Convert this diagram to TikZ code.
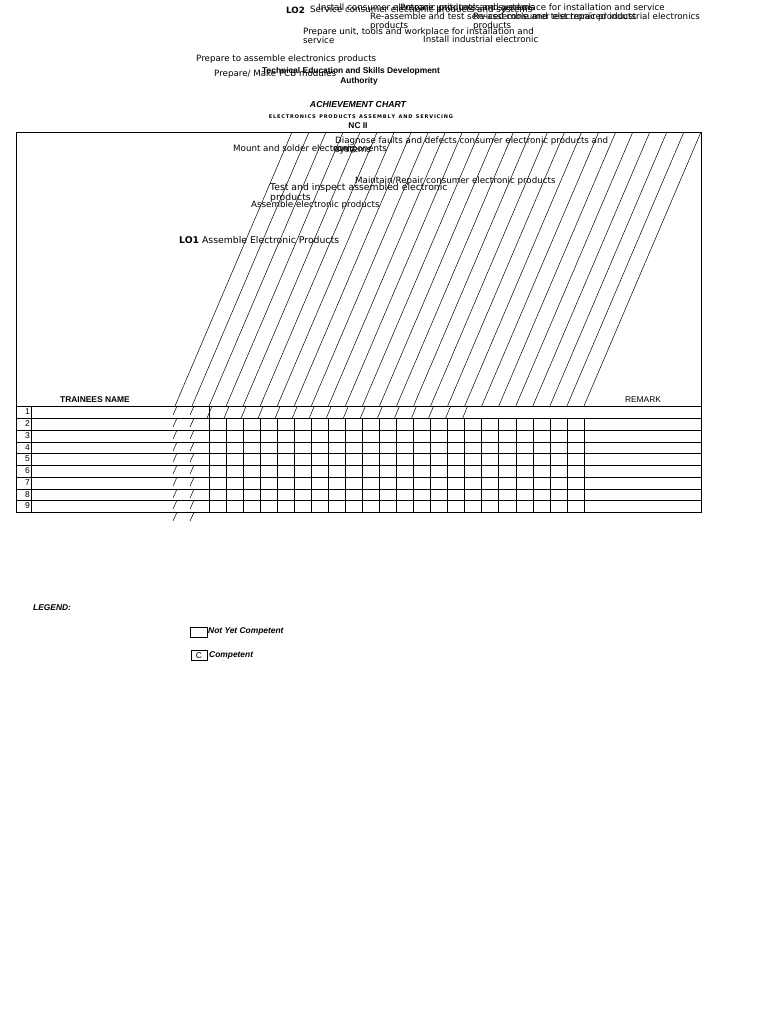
\documentclass[tikz,border=0pt]{standalone}
\usepackage{fontspec}
\setmainfont{DejaVu Sans}
\newfontfamily\arialf{Liberation Sans}
\begin{document}
\begin{tikzpicture}[x=1pt,y=-1pt,
  lbl/.style={anchor=west,inner sep=0,font=\fontsize{8.7}{8.8}\selectfont,align=left},
  hd/.style={inner sep=0,font=\arialf\bfseries\fontsize{8.4}{9}\selectfont},
  ln/.style={line width=0.6pt}]
\useasboundingbox (0,0) rectangle (768,1024);
% header texts
\node[lbl] (lo2) at (286,10) {\textbf{LO2}};
\node[lbl] (t1) at (310,10) {Service consumer electronic products and systems};
\node[lbl] (t2) at (318,8) {Install consumer electronic products and systems};
\node[lbl] (t3) at (400,8) {Prepare unit, tools and workplace for installation and service};
\node[lbl,anchor=north west] (t4) at (370,13) {Re-assemble and test serviced consumer electronic products\\products};
\node[lbl,anchor=north west] (t5) at (473,13) {Re-assemble and test repaired industrial electronics\\products};
\node[lbl,anchor=north west] (t6) at (303,28) {Prepare unit, tools and workplace for installation and\\service};
\node[lbl] (t7) at (423,39) {Install industrial electronic};
\node[lbl] (t8) at (196,59) {Prepare to assemble electronics products};
\node[lbl] (t9) at (214,74) {Prepare/ Make PCB modules};
\node[hd,anchor=west] (t10) at (262,71) {Technical Education and Skills Development};
\node[hd] (t11) at (359,81) {Authority};
\node[hd,font=\arialf\bfseries\itshape\fontsize{8.7}{9}\selectfont] (t12) at (358,105) {ACHIEVEMENT CHART};
\node[hd,font=\bfseries\fontsize{5}{6}\selectfont] (t13) at (361,117) {E\,L\,E\,C\,T\,R\,O\,N\,I\,C\,S\ \ P\,R\,O\,D\,U\,C\,T\,S\ \ A\,S\,S\,E\,M\,B\,L\,Y\ \ A\,N\,D\ \ S\,E\,R\,V\,I\,C\,I\,N\,G};
\node[hd] (t14) at (358,126) {NC II};
% table
\draw[ln] (16,132) rectangle (701,512);
\foreach \i in {0,...,24} {
  \pgfmathsetmacro{\xb}{175+17.04*\i}
  \draw[line width=0.5pt] (\xb,406) -- (\xb+117,132);
}
\foreach \y in {406,418,430,442,453,465,477,489,500} \draw[ln] (16,\y) -- (701,\y);
\draw[ln] (31,406) -- (31,512);
\foreach \i in {2,...,24} {
  \pgfmathsetmacro{\xb}{175+17.04*\i}
  \draw[ln] (\xb,418) -- (\xb,512);
}
\foreach \i in {2,...,17} {
  \pgfmathsetmacro{\xb}{175+17.04*\i}
  \draw[line width=0.5pt] (\xb-2,418) -- (\xb+3,406);
}
\draw[line width=0.5pt] (175+17.04*2,406) -- (175+17.04*2,418);
\foreach \i in {0,1} {
  \foreach \y in {406,418,430,442,453,465,477,489,500,512} {
    \pgfmathsetmacro{\xb}{175+17.04*\i}
    \draw[line width=0.5pt] (\xb-2,\y+9) -- (\xb+2,\y);
  }
}
\foreach \n/\y in {1/412,2/424,3/436,4/448,5/459,6/471,7/483,8/495,9/506}
  \node[lbl,font=\arialf\fontsize{8.5}{8}\selectfont] (r\n) at (25,\y) {\n};
\node[hd,font=\arialf\bfseries\fontsize{8.4}{9}\selectfont] (tn) at (95,400) {TRAINEES NAME};
\node[hd,font=\arialf\fontsize{8.4}{9}\selectfont] (rm) at (643,400) {REMARK};
% column labels
\node[lbl] (c1) at (233,148) {Mount and solder electronic};
\node[lbl] (c1b) at (333,149) {components};
\node[lbl,anchor=north west] (c2) at (335,137) {Diagnose faults and defects consumer electronic products and\\systems};
\node[lbl] (c3) at (355,181) {Maintain/Repair consumer electronic products};
\node[lbl,anchor=north west,font=\fontsize{9.3}{8.8}\selectfont] (c4) at (270,183) {Test and inspect assembled electronic\\products};
\node[lbl] (c5) at (251,205) {Assemble electronic products};
\node[lbl,font=\fontsize{9.3}{9}\selectfont] (c6) at (179,240) {\textbf{LO1} Assemble Electronic Products};
% legend
\node[hd,anchor=west,font=\arialf\bfseries\itshape\fontsize{8.4}{9}\selectfont] (lg) at (33,608) {LEGEND:};
\node[draw,line width=0.5pt,minimum width=17pt,minimum height=10pt,inner sep=0] (b1) at (199,632) {};
\node[hd,anchor=west,font=\arialf\bfseries\itshape\fontsize{8.4}{9}\selectfont] (l1) at (208,631) {Not Yet Competent};
\node[draw,line width=0.5pt,minimum width=16pt,minimum height=10pt,inner sep=0,font=\arialf\fontsize{8.4}{8}\selectfont] (b2) at (199,655.5) {C};
\node[hd,anchor=west,font=\arialf\bfseries\itshape\fontsize{8.4}{9}\selectfont] (l2) at (209,655) {Competent};
\end{tikzpicture}
\end{document}
